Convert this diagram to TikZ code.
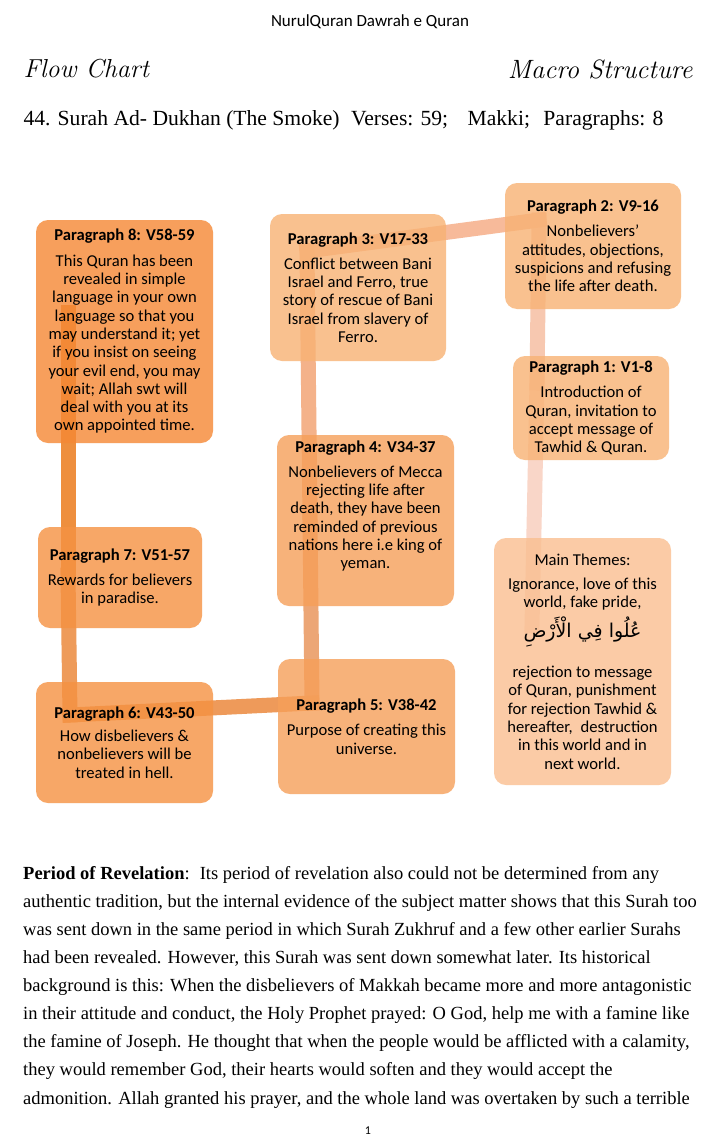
\documentclass[tikz,border=0pt]{standalone}
\usepackage{fontspec}
\usepackage{xcolor}
\setmainfont{Liberation Serif}
\newfontfamily\boxfont{Carlito}
\newfontfamily\headfont{Latin Modern Roman}
\newfontfamily\arabicfont[Script=Arabic]{DejaVu Sans}
\TeXXeTstate=1
\usetikzlibrary{backgrounds}
\definecolor{deep}{HTML}{F58834}
\definecolor{warm}{HTML}{F59242}
\definecolor{mid}{HTML}{F69F59}
\definecolor{light}{HTML}{F8B274}
\definecolor{theme}{HTML}{FABF90}
\definecolor{segA}{HTML}{EE8F3E}
\definecolor{segB}{HTML}{EE9B5A}
\definecolor{segC}{HTML}{EE9A5A}
\definecolor{segD}{HTML}{ECA676}
\definecolor{segE}{HTML}{F4B28A}
\definecolor{segF}{HTML}{F7BA9A}
\definecolor{segG}{HTML}{F7C8B0}
\definecolor{segH}{HTML}{F9D6C8}

\begin{document}
\begin{tikzpicture}[x=1pt,y=-1pt,
  para/.style={rounded corners=12pt,fill opacity=.8,text opacity=1,align=center,
               inner sep=0pt,font=\boxfont\fontsize{16.6}{18.3}\selectfont},
  band/.style={line width=15pt,line cap=rect}]
  \useasboundingbox (0,0) rectangle (726,1140);
  % page header
  \node[font=\boxfont\fontsize{17}{20}\selectfont] (running) at (370,22) {NurulQuran Dawrah e Quran};
  \node[font=\headfont\itshape\fontsize{26}{30}\selectfont,anchor=west] (flow) at (20,69) {Flow Chart};
  \node[font=\headfont\itshape\fontsize{26.5}{30}\selectfont,anchor=east] (macro) at (696,69) {Macro Structure};
  \node[font=\fontsize{21.6}{25}\selectfont,anchor=west] (surah) at (20,120)
    {44. Surah Ad- Dukhan (The Smoke)\hspace{6pt} Verses: 59;\hspace{14pt} Makki;\hspace{8pt} Paragraphs: 8};
  % paragraph boxes
  \node[para,fill=deep,minimum width=177,minimum height=223] (p8) at (124.5,331.5)
    {\textbf{Paragraph 8: V58-59}\\[7pt]This Quran has been\\revealed in simple\\language in your own\\
     language so that you\\may understand it; yet\\if you insist on seeing\\your evil end, you may\\
     wait; Allah swt will\\deal with you at its\\own appointed time.};
  \node[para,fill=light,minimum width=176,minimum height=147] (p3) at (358,287.5)
    {\textbf{Paragraph 3: V17-33}\\[7pt]Conflict between Bani\\Israel and Ferro, true\\story of rescue of Bani\\
     Israel from slavery of\\Ferro.};
  \node[para,fill=light,minimum width=176,minimum height=126] (p2) at (593,246)
    {\textbf{Paragraph 2: V9-16}\\[7pt]Nonbelievers’\\attitudes, objections,\\suspicions and refusing\\the life after death.};
  \node[para,fill=light,minimum width=156,minimum height=104] (p1) at (591,408)
    {\textbf{Paragraph 1: V1-8}\\[7pt]Introduction of\\Quran, invitation to\\accept message of\\Tawhid \& Quran.};
  \node[para,fill=mid,minimum width=177,minimum height=171] (p4) at (365.5,520.5)
    {\textbf{Paragraph 4: V34-37}\\[7pt]Nonbelievers of Mecca\\rejecting life after\\death, they have been\\
     reminded of previous\\nations here i.e king of\\yeman.\\[13.5pt]\mbox{}};
  \node[para,fill=mid,minimum width=177,minimum height=135] (p5) at (366.5,726.5)
    {\textbf{Paragraph 5: V38-42}\\[7pt]Purpose of creating this\\universe.};
  \node[para,fill=theme,minimum width=177,minimum height=247] (themes) at (582.5,661.5)
    {Main Themes:\\[5.7pt]Ignorance, love of this\\world, fake pride,\\[11.7pt]
     \smash{\arabicfont\fontsize{19}{22}\selectfont\beginR عُلُوا فِي الْأَرْضِ\endR}\\[21.7pt]
     rejection to message\\of Quran, punishment\\for rejection Tawhid \&\\hereafter,\hspace{4pt} destruction\\
     in this world and in\\next world.};
  \node[para,fill=warm,minimum width=164,minimum height=101] (p7) at (120,577.5)
    {\textbf{Paragraph 7: V51-57}\\[7pt]Rewards for believers\\in paradise.};
  \node[para,fill=warm,minimum width=177,minimum height=121] (p6) at (124.5,742.5)
    {\textbf{Paragraph 6: V43-50}\\[5pt]How disbelievers \&\\nonbelievers will be\\treated in hell.};
  % bend points of the bands
  \coordinate (k8) at (68,312);
  \coordinate (k7) at (68,575);
  \coordinate (k6) at (70,715);
  \coordinate (k5) at (312,703);
  \coordinate (k4) at (310,520);
  \coordinate (k3) at (307,251);
  \coordinate (k2) at (539,220);
  \coordinate (k1) at (537,383);
  \coordinate (km) at (532,626);
  \begin{scope}[on background layer]
    \fill[white] (0,0) rectangle (726,1140);
    \draw[band,segH] (k1) -- (km);
    \draw[band,segG] (k2) -- (k1);
    \draw[band,segF] (k3) -- (k2);
    \draw[band,segE] (k3) -- (k4);
    \draw[band,segD] (k4) -- (k5);
    \draw[band,segC] (k5) -- (k6);
    \draw[band,segB] (k6) -- (k7);
    \draw[band,segA] (k7) -- (k8);
  \end{scope}
  % text below the chart
  \node[anchor=north west,align=left,inner sep=0pt,font=\fontsize{18.5}{28.1}\selectfont] (period) at (23,866)
    {\textbf{Period of Revelation}:\hspace{4pt} Its period of revelation also could not be determined from any\\
     authentic tradition, but the internal evidence of the subject matter shows that this Surah too\\
     was sent down in the same period in which Surah Zukhruf and a few other earlier Surahs\\
     had been revealed. However, this Surah was sent down somewhat later. Its historical\\
     background is this: When the disbelievers of Makkah became more and more antagonistic\\
     in their attitude and conduct, the Holy Prophet prayed: O God, help me with a famine like\\
     the famine of Joseph. He thought that when the people would be afflicted with a calamity,\\
     they would remember God, their hearts would soften and they would accept the\\
     admonition. Allah granted his prayer, and the whole land was overtaken by such a terrible};
  \node[font=\boxfont\fontsize{12}{14}\selectfont] (pageno) at (368,1131) {1};
\end{tikzpicture}
\end{document}
